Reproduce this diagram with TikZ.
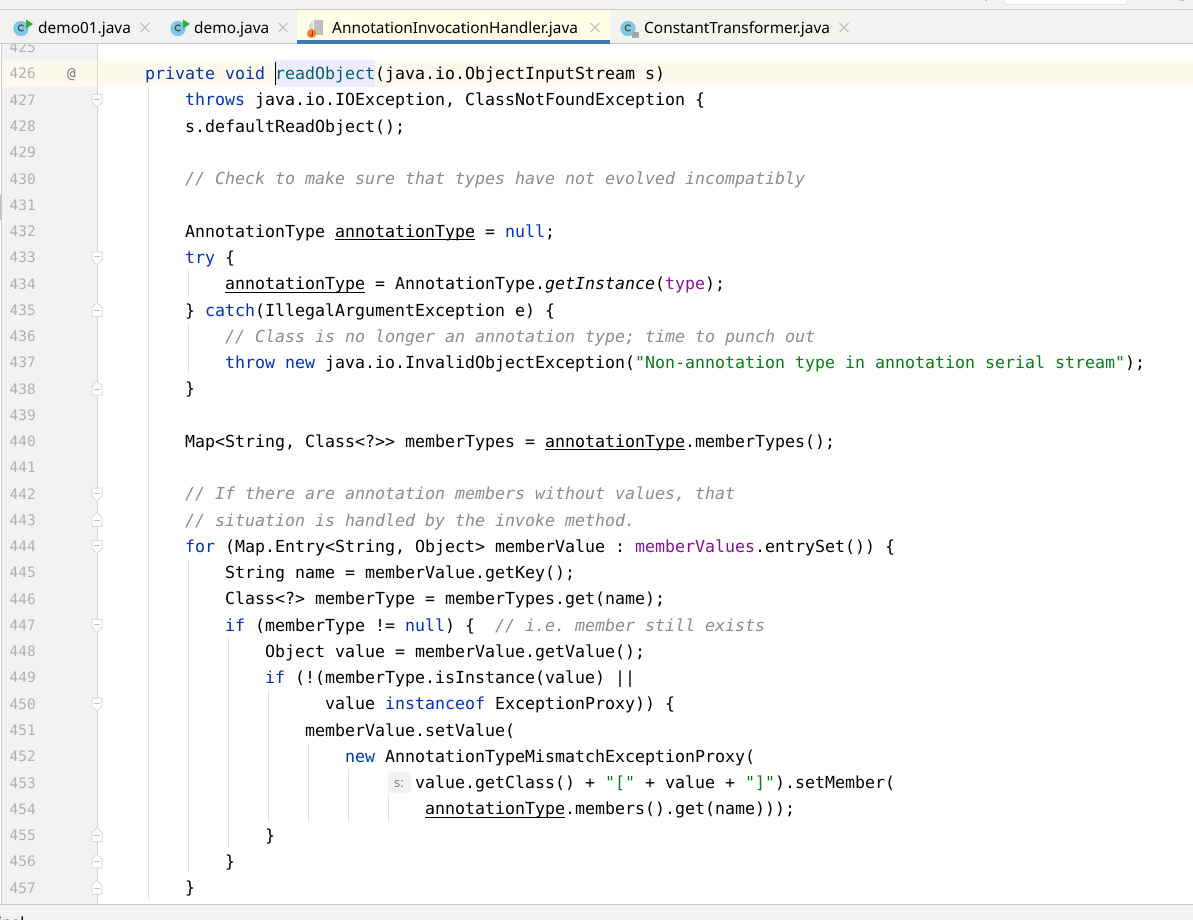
\documentclass[tikz,border=0pt]{standalone}
\usepackage{fontspec}
\newfontfamily\codefont{DejaVu Sans Mono}
\newfontfamily\tabfont{Noto Sans}
\frenchspacing
\definecolor{barbg}{HTML}{F2F2F2}
\definecolor{barline}{HTML}{C9C9C9}
\definecolor{rowbg}{HTML}{FCFAED}
\definecolor{wordbg}{HTML}{EDEBFC}
\definecolor{lineno}{HTML}{B0B0B0}
\definecolor{keyword}{HTML}{0033B3}
\definecolor{comment}{HTML}{8C8C8C}
\definecolor{strval}{HTML}{067D17}
\definecolor{field}{HTML}{871094}
\definecolor{method}{HTML}{00627A}
\definecolor{guideline}{HTML}{E2E2E2}
\definecolor{iconblue}{HTML}{7FC8E4}
\newcommand{\kw}[1]{\textcolor{keyword}{#1}}
\newcommand{\cm}[1]{\textcolor{comment}{\itshape #1}}
\newcommand{\st}[1]{\textcolor{strval}{#1}}
\newcommand{\fd}[1]{\textcolor{field}{#1}}
\newcommand{\annot}{\rlap{\rule[-3pt]{140pt}{0.9pt}}annotationType}
\newcommand{\cl}[3]{\node[codeline] (line#1) at ({105+10*#2},{79.7+26.26*(#1-426)}) {#3};}
\tikzset{
    codeline/.style={anchor=base west, inner sep=0pt, font=\codefont\fontsize{16.61}{20}\selectfont, text=black},
    numlabel/.style={anchor=base west, inner sep=0pt, font=\codefont\fontsize{14.4}{18}\selectfont, text=lineno},
    tablabel/.style={anchor=base west, inner sep=0pt, font=\tabfont\fontsize{15.4}{18}\selectfont, text=black},
    guide/.style={draw=guideline, line width=1pt},
    closemark/.style={draw=black!28, line width=1pt},
    foldopen/.pic={
        \draw[draw=black!13, fill=white, line width=1pt] (-5,-5) -- (5,-5) -- (5,3) -- (0,8) -- (-5,3) -- cycle;
        \draw[draw=black!25, line width=0.8pt] (-3,0) -- (3,0);
    },
    foldclose/.pic={
        \draw[draw=black!13, fill=white, line width=1pt] (-5,7) -- (5,7) -- (5,-2) -- (0,-7) -- (-5,-2) -- cycle;
        \draw[draw=black!25, line width=0.8pt] (-3,1) -- (3,1);
    },
}
\begin{document}
\begin{tikzpicture}[x=1pt, y=-1pt]
    \useasboundingbox (0,0) rectangle (1193,920);
    \fill[white] (0,0) rectangle (1193,920);
    \fill[barbg] (2,44) rectangle (97,904);
    \fill[rowbg] (2,60) rectangle (1193,87);
    \fill[wordbg] (275,60) rectangle (375,87);
    \fill[black!25] (0,195) rectangle (2,220);
    \draw[barline] (1.5,44) -- (1.5,904);
    \draw[draw=black!17, line width=1pt] (97,44) -- (97,904);
    \foreach \n in {425,...,457} {
        \node[numlabel] (num\n) at (9.5,{79+26.26*(\n-426)}) {\n};
    }
    \node[numlabel, text=black!55] (atsign) at (67,79) {@};
    \foreach \gx/\gtop/\gend in {148/87/900, 188/270/297, 188/323/373, 188/559/873, 228/638/848, 268/690/822, 308/743/822, 348/769/822, 388/795/822} {
        \draw[guide] (\gx,\gtop) -- (\gx,\gend);
    }
    \foreach \n in {427,433,442,444,447,450} {
        \pic at (97,{73+26.26*(\n-426)}) {foldopen};
    }
    \foreach \n in {435,438,443,455,456,457} {
        \pic at (97,{73+26.26*(\n-426)}) {foldclose};
    }
    \fill[black] (274.5,62) rectangle (276,85);
    \cl{426}{4}{\kw{private void} \textcolor{method}{readObject}(java.io.ObjectInputStream s)}
    \cl{427}{8}{\kw{throws} java.io.IOException, ClassNotFoundException \{}
    \cl{428}{8}{s.defaultReadObject();}
    \cl{430}{8}{\cm{// Check to make sure that types have not evolved incompatibly}}
    \cl{432}{8}{AnnotationType \annot{} = \kw{null};}
    \cl{433}{8}{\kw{try} \{}
    \cl{434}{12}{\annot{} = AnnotationType.{\itshape getInstance}(\fd{type});}
    \cl{435}{8}{\} \kw{catch}(IllegalArgumentException e) \{}
    \cl{436}{12}{\cm{// Class is no longer an annotation type; time to punch out}}
    \cl{437}{12}{\kw{throw new} java.io.InvalidObjectException(\st{"Non-annotation type in annotation serial stream"});}
    \cl{438}{8}{\}}
    \cl{440}{8}{Map<String, Class<?>> memberTypes = \annot.memberTypes();}
    \cl{442}{8}{\cm{// If there are annotation members without values, that}}
    \cl{443}{8}{\cm{// situation is handled by the invoke method.}}
    \cl{444}{8}{\kw{for} (Map.Entry<String, Object> memberValue : \fd{memberValues}.entrySet()) \{}
    \cl{445}{12}{String name = memberValue.getKey();}
    \cl{446}{12}{Class<?> memberType = memberTypes.get(name);}
    \cl{447}{12}{\kw{if} (memberType != \kw{null}) \{~~\cm{// i.e. member still exists}}
    \cl{448}{16}{Object value = memberValue.getValue();}
    \cl{449}{16}{\kw{if} (!(memberType.isInstance(value) ||}
    \cl{450}{22}{value \kw{instanceof} ExceptionProxy)) \{}
    \cl{451}{20}{memberValue.setValue(}
    \cl{452}{24}{\kw{new} AnnotationTypeMismatchExceptionProxy(}
    \cl{453}{31}{value.getClass() + \st{"["} + value + \st{"]"}).setMember(}
    \cl{454}{32}{\annot.members().get(name)));}
    \cl{455}{16}{\}}
    \cl{456}{12}{\}}
    \cl{457}{8}{\}}
    \fill[barbg, rounded corners=3pt] (388,772) rectangle (411,793);
    \node[anchor=base west, inner sep=0pt, font=\tabfont\fontsize{13}{15}\selectfont, text=black!50] (hintlabel) at (394,787) {s:};
    \fill[barbg] (0,0) rectangle (1193,43);
    \draw[barline] (0,9.5) -- (1193,9.5);
    \draw[barline] (0,43.5) -- (1193,43.5);
    \draw[barline, fill=white, rounded corners=2pt] (1004,-4) rectangle (1127,4.5);
    \fill[black!30!green!45] (985,0) rectangle (987,1);
    \fill[black!30!green!45] (1180,0) rectangle (1184,1);
    \fill[yellow!10] (297,10) rectangle (610,40);
    \fill[yellow!25!black!7] (610,10) rectangle (858,43);
    \fill[blue!50!cyan!60!black!75] (297,40) rectangle (610,44);
    \fill[iconblue] (21,28.5) circle (7.7);
    \fill[green!60!black!80] (26,19.5) -- (33,24) -- (26,28.5) -- cycle;
    \draw[black!70, line width=1.2pt] (23.5,26) arc (-40:-320:3);
    \fill[iconblue] (178,28.5) circle (7.7);
    \fill[green!60!black!80] (183,19.5) -- (190,24) -- (183,28.5) -- cycle;
    \draw[black!70, line width=1.2pt] (180.5,26) arc (-40:-320:3);
    \fill[black!25] (314,20) -- (323,20) -- (323,35) -- (314,35) -- cycle;
    \fill[black!15] (309,25) -- (313,20) -- (313,29) -- (309,29) -- cycle;
    \fill[orange!80!red!85] (311.5,33.5) circle (4.6);
    \draw[black!70, line width=0.8pt] (312.5,31) -- (312.5,35) -- (310,35);
    \fill[iconblue] (628,28.5) circle (7.7);
    \draw[black!70, line width=1.2pt] (630.5,26) arc (-40:-320:3);
    \fill[black!35] (632,32) rectangle (639,38);
    \node[tablabel] (tabdemoone) at (38,33.5) {demo01.java};
    \node[tablabel] (tabdemo) at (194,33.5) {demo.java};
    \node[tablabel] (tabhandler) at (332,33.5) {AnnotationInvocationHandler.java};
    \node[tablabel] (tabconstant) at (644,33.5) {ConstantTransformer.java};
    \foreach \cx in {145,283,595,844} {
        \draw[closemark] (\cx-4.5,23) -- (\cx+4.5,32);
        \draw[closemark] (\cx-4.5,32) -- (\cx+4.5,23);
    }
    \fill[barbg] (0,905) rectangle (1193,920);
    \draw[barline] (0,904.5) -- (1193,904.5);
    \begin{scope}
        \clip (0,905) rectangle (1193,920);
        \node[tablabel] (toolwindow) at (-2,928) {inal};
    \end{scope}
\end{tikzpicture}
\end{document}
